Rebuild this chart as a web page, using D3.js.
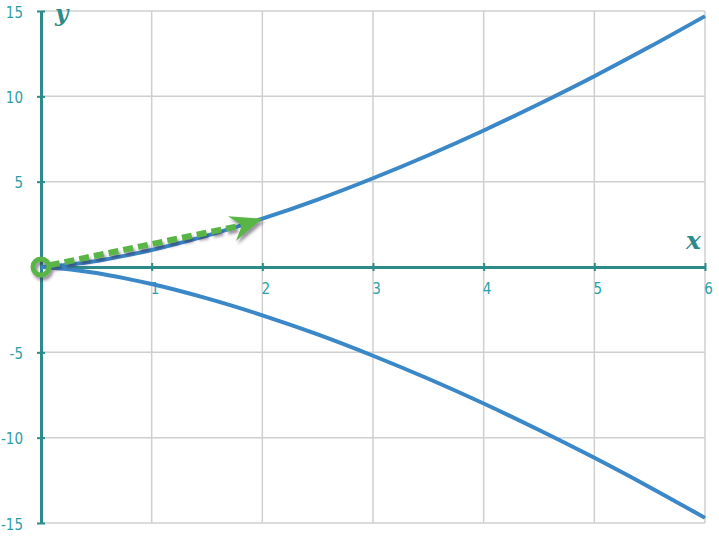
<!DOCTYPE html>
<html><head><meta charset="utf-8">
<script src="https://cdn.jsdelivr.net/npm/d3@7"></script>
<style>body{margin:0;background:#fff}svg{display:block}</style>
</head><body><svg id="c" width="719" height="539"></svg>
<script>
const xTicks = [1, 2, 3, 4, 5, 6];
const yTicks = [-15, -10, -5, 5, 10, 15];
const xs = [0, 0.25, 0.5, 0.75, 1, 1.5, 2, 2.5, 3, 3.5, 4, 4.5, 5, 5.5, 6];
const yUpper = [0, 0.13, 0.35, 0.65, 1, 1.84, 2.83, 3.95, 5.2, 6.55, 8, 9.55, 11.18, 12.9, 14.7];
const yLower = [0, -0.13, -0.35, -0.65, -1, -1.84, -2.83, -3.95, -5.2, -6.55, -8, -9.55, -11.18, -12.9, -14.7];
const arrowFrom = [0, 0];
const arrowTo = [2, 2.83];
const arrowDir = [[1.5, 1.84], [2.5, 3.95]];

const svg = d3.select("#c");
const x = d3.scaleLinear().domain([0, 6]).range([41, 705]);
const y = d3.scaleLinear().domain([-15, 15]).range([523, 11]);
const teal = "#2e8b8b", label = "#2aa0a8", blue = "#3a88c8", green = "#5ab546";
const fmt = d => String(d);

const defs = svg.append("defs");
const f = defs.append("filter").attr("id", "sh").attr("x", "-20%").attr("y", "-50%").attr("width", "140%").attr("height", "200%");
f.append("feDropShadow").attr("dx", 2).attr("dy", 3).attr("stdDeviation", 1.5).attr("flood-color", "#302040").attr("flood-opacity", 0.5);

// grid
svg.append("g").selectAll("line").data(xTicks).join("line")
  .attr("x1", d => x(d)).attr("x2", d => x(d)).attr("y1", y(15)).attr("y2", y(-15))
  .attr("stroke", "#cfcfcf").attr("stroke-width", 1.5);
svg.append("g").selectAll("line").data(yTicks).join("line")
  .attr("x1", x(0)).attr("x2", x(6)).attr("y1", d => y(d)).attr("y2", d => y(d))
  .attr("stroke", "#cfcfcf").attr("stroke-width", 1.5);

// axes
const xAxis = svg.append("g").attr("transform", `translate(0,${y(0)})`)
  .call(d3.axisBottom(x).tickValues(xTicks).tickFormat(fmt).tickSizeInner(4).tickSizeOuter(0).tickPadding(12));
const yAxis = svg.append("g").attr("transform", `translate(${x(0)},0)`)
  .call(d3.axisLeft(y).tickValues(yTicks).tickFormat(fmt).tickSizeInner(4).tickSizeOuter(0).tickPadding(14));
[xAxis, yAxis].forEach(g => {
  g.select(".domain").attr("stroke", teal).attr("stroke-width", 3);
  g.selectAll(".tick line").attr("stroke", teal).attr("stroke-width", 2);
  g.selectAll(".tick text").attr("fill", label).attr("font-family", "DejaVu Sans Condensed, Liberation Sans Narrow, sans-serif").attr("font-size", 15);
});
xAxis.selectAll(".tick line").attr("y1", -4);
xAxis.selectAll(".tick text").attr("dx", 3);
yAxis.selectAll(".tick line").attr("x1", 4);
yAxis.selectAll(".tick text").attr("dy", "0.4em");

svg.append("text").attr("x", 55).attr("y", 21).text("y")
  .attr("font-family", "DejaVu Serif, serif").attr("font-style", "italic").attr("font-weight", "bold")
  .attr("font-size", 23).attr("fill", teal);
svg.append("text").attr("x", 686).attr("y", 249).text("x")
  .attr("font-family", "DejaVu Serif, serif").attr("font-style", "italic").attr("font-weight", "bold")
  .attr("font-size", 25).attr("fill", teal);

// curves
const line = d3.line().curve(d3.curveMonotoneX);
svg.append("path").attr("d", line(xs.map((d, i) => [x(d), y(yUpper[i])])))
  .attr("fill", "none").attr("stroke", blue).attr("stroke-width", 4);
svg.append("path").attr("d", line(xs.map((d, i) => [x(d), y(yLower[i])])))
  .attr("fill", "none").attr("stroke", blue).attr("stroke-width", 4);

// arrow
const x0 = x(arrowFrom[0]), y0 = y(arrowFrom[1]), x1 = x(arrowTo[0]), y1 = y(arrowTo[1]);
const ang = Math.atan2(y(arrowDir[1][1]) - y(arrowDir[0][1]), x(arrowDir[1][0]) - x(arrowDir[0][0]));
const ga = svg.append("g").attr("filter", "url(#sh)");
const headLen = 32;
const bx = x1 - headLen * Math.cos(ang), by = y1 - headLen * Math.sin(ang);
const notch = 0.33;
const nx = bx + headLen * notch * Math.cos(ang), ny = by + headLen * notch * Math.sin(ang);
const la = Math.atan2(ny - y0, nx - x0);
ga.append("line").attr("x1", x0 + 9 * Math.cos(la)).attr("y1", y0 + 9 * Math.sin(la))
  .attr("x2", nx).attr("y2", ny)
  .attr("stroke", green).attr("stroke-width", 6).attr("stroke-dasharray", "10,5");
const px = -Math.sin(ang), py = Math.cos(ang);
const hw = 13;
ga.append("path").attr("d",
  `M${x1},${y1} L${bx + hw * px},${by + hw * py} L${nx},${ny} L${bx - hw * px},${by - hw * py} Z`)
  .attr("fill", green);
ga.append("circle").attr("cx", x0).attr("cy", y0).attr("r", 8)
  .attr("fill", "none").attr("stroke", green).attr("stroke-width", 5);
</script></body></html>
